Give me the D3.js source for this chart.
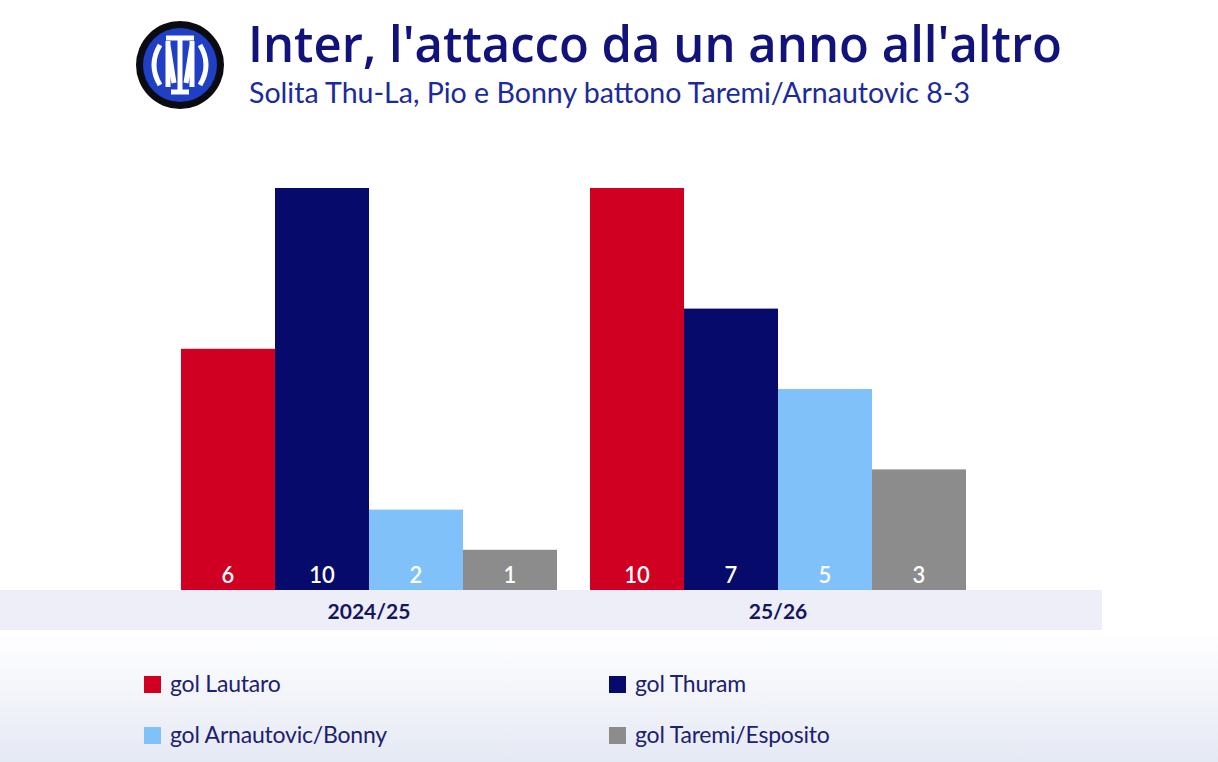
<!DOCTYPE html>
<html>
<head>
<meta charset="utf-8">
<script src="https://cdn.jsdelivr.net/npm/d3@7"></script>
<style>
  body { margin: 0; background: #fff; }
  svg { display: block; }
</style>
</head>
<body>
<div id="chart"></div>
<script>
var width = 1218,
    height = 762;

// data
var seasons = ["2024/25", "25/26"];
var series = ["gol Lautaro", "gol Thuram", "gol Arnautovic/Bonny", "gol Taremi/Esposito"];
var lautaro = [6, 10];
var thuram = [10, 7];
var arnautovicBonny = [2, 5];
var taremiEsposito = [1, 3];
var colors = ["#cf0021", "#050a6b", "#80c1fa", "#8c8c8c"];

var values = [lautaro, thuram, arnautovicBonny, taremiEsposito];
var rows = [];
seasons.forEach(function(s, i){
  series.forEach(function(k, j){
    rows.push({season: s, key: k, value: values[j][i], color: colors[j]});
  });
});

var svg = d3.select("#chart")
  .append("svg")
  .attr("width", width)
  .attr("height", height);

// background
var defs = svg.append("defs");
var grad = defs.append("linearGradient")
  .attr("id", "bg").attr("x1", 0).attr("y1", 0).attr("x2", 0).attr("y2", 1);
grad.append("stop").attr("offset", "0%").attr("stop-color", "#ffffff");
grad.append("stop").attr("offset", "83%").attr("stop-color", "#ffffff");
grad.append("stop").attr("offset", "100%").attr("stop-color", "#e5e9f4");
svg.append("rect").attr("width", width).attr("height", height).attr("fill", "url(#bg)");

// logo
var logo = svg.append("g").attr("transform", "translate(180,65)");
logo.append("circle").attr("r", 44).attr("fill", "#0b0b12");
logo.append("circle").attr("r", 37).attr("fill", "#1f3fc4");
var w = logo.append("g").attr("fill", "none").attr("stroke", "#fff").attr("stroke-width", 5).attr("stroke-linecap", "butt");
w.append("path").attr("d", "M-14,-27 L14,-27");
w.append("path").attr("d", "M0,-27 L0,27");
w.append("path").attr("d", "M-9,27 L9,27");
w.append("path").attr("d", "M-20,-20 Q-32,0 -20,20");
w.append("path").attr("d", "M20,-20 Q32,0 20,20");
w.append("path").attr("d", "M-12,-24 L-12,22 M-12,-20 L-6,18");
w.append("path").attr("d", "M12,-24 L12,22 M12,-20 L6,18");

// titles
svg.append("text")
  .attr("x", 248).attr("y", 62)
  .attr("textLength", 814).attr("lengthAdjust", "spacingAndGlyphs")
  .style("font-family", "'Open Sans', Lato, sans-serif")
  .style("font-weight", 600)
  .style("font-size", "51px")
  .attr("fill", "#12137a")
  .text("Inter, l'attacco da un anno all'altro");

svg.append("text")
  .attr("x", 249).attr("y", 103)
  .attr("textLength", 721).attr("lengthAdjust", "spacingAndGlyphs")
  .style("font-family", "Lato, 'Open Sans', sans-serif")
  .style("font-weight", 400)
  .style("font-size", "28px")
  .attr("fill", "#1b2a9c")
  .text("Solita Thu-La, Pio e Bonny battono Taremi/Arnautovic 8-3");

// scales
var x0 = d3.scaleBand().domain(seasons).range([181, 966]).paddingInner(0.0807).paddingOuter(0);
var x1 = d3.scaleBand().domain(series).range([0, x0.bandwidth()]).padding(0);
var y = d3.scaleLinear().domain([0, 10]).range([590, 188]);

// category band
svg.append("rect")
  .attr("x", 0).attr("y", 590).attr("width", 1102).attr("height", 40)
  .attr("fill", "#eeeef9");

svg.selectAll(".cat")
  .data(seasons)
  .enter()
  .append("text")
  .attr("class", "cat")
  .attr("x", function(d){ return x0(d) + x0.bandwidth() / 2 })
  .attr("y", 619)
  .attr("text-anchor", "middle")
  .style("font-family", "Lato, sans-serif")
  .style("font-weight", 700)
  .style("font-size", "21px")
  .attr("fill", "#14165e")
  .text(function(d){ return d });

// bars
var bars = svg.selectAll(".bar")
  .data(rows)
  .enter()
  .append("g")
  .attr("class", "bar");

bars.append("rect")
  .attr("x", function(d){ return x0(d.season) + x1(d.key) })
  .attr("y", function(d){ return y(d.value) })
  .attr("width", x1.bandwidth())
  .attr("height", function(d){ return y(0) - y(d.value) })
  .attr("fill", function(d){ return d.color });

bars.append("text")
  .attr("x", function(d){ return x0(d.season) + x1(d.key) + x1.bandwidth() / 2 })
  .attr("y", 583)
  .attr("text-anchor", "middle")
  .style("font-family", "Lato, sans-serif")
  .style("font-weight", 600)
  .style("font-size", "22px")
  .attr("fill", "#fff")
  .text(function(d){ return d.value });

// legend
var legX = [144, 609], legY = [676, 727];
var leg = svg.selectAll(".leg")
  .data(series)
  .enter()
  .append("g")
  .attr("class", "leg")
  .attr("transform", function(d, i){ return "translate(" + legX[i % 2] + "," + legY[Math.floor(i / 2)] + ")" });

leg.append("rect")
  .attr("width", 17).attr("height", 17)
  .attr("fill", function(d, i){ return colors[i] });

leg.append("text")
  .attr("x", 26).attr("y", 16)
  .style("font-family", "Lato, sans-serif")
  .style("font-size", "23px")
  .style("letter-spacing", "-0.2px")
  .attr("fill", "#1c2170")
  .text(function(d){ return d });
</script>
</body>
</html>
